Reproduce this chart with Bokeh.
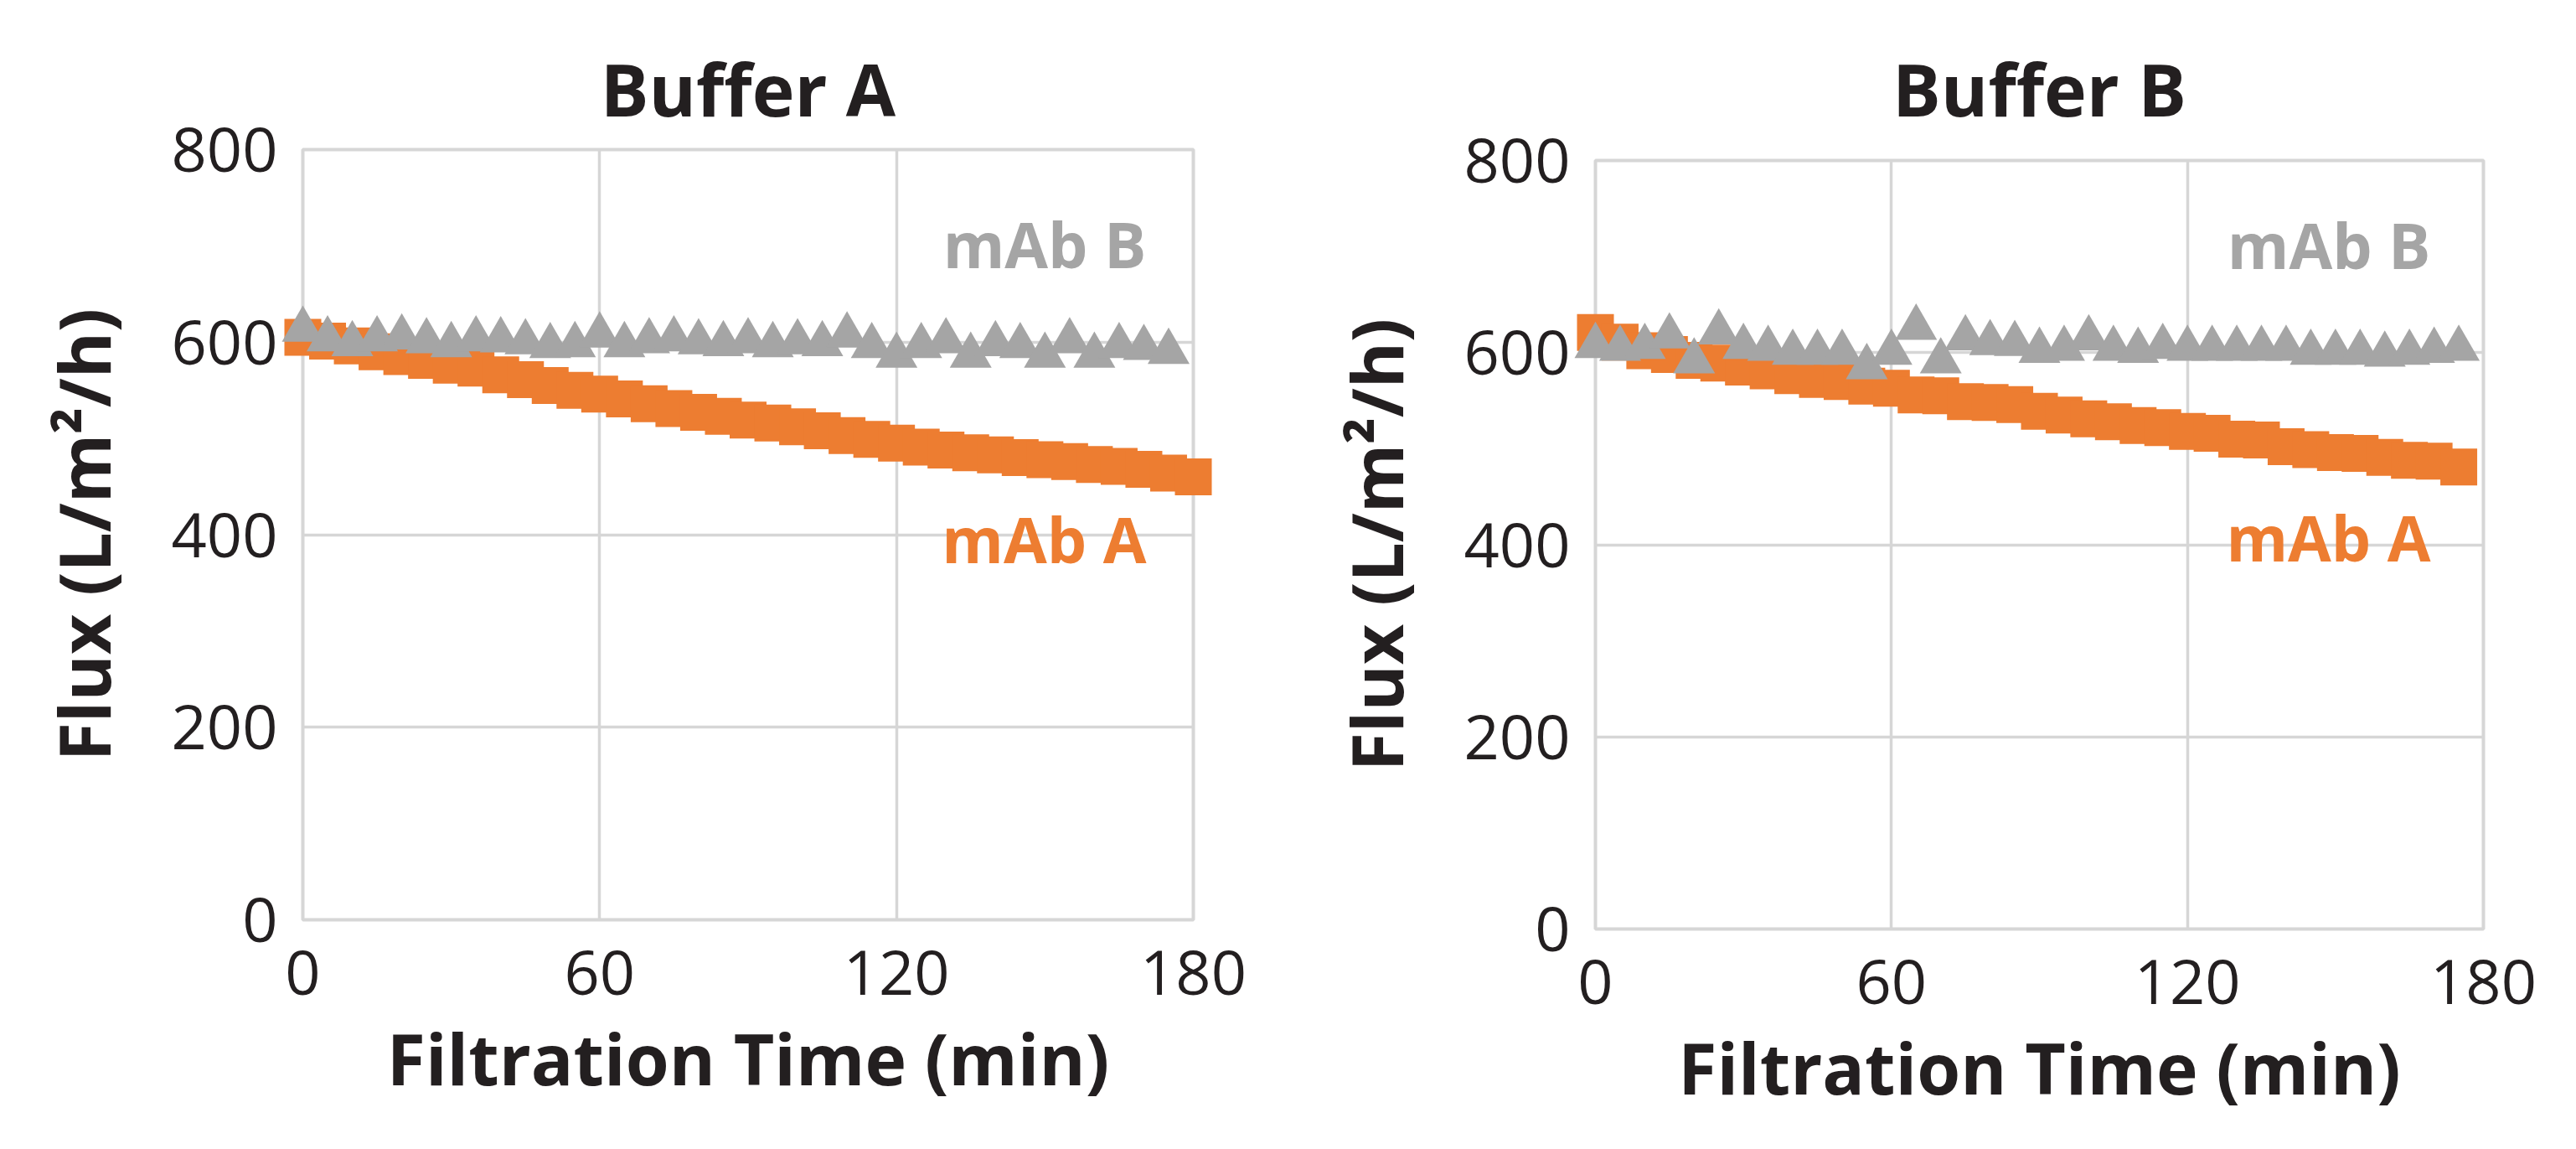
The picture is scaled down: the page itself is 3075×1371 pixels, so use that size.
from bokeh.plotting import figure
from bokeh.models import Range1d, FixedTicker, Label
from bokeh.core.properties import value
from bokeh.embed import file_html
from bokeh.resources import INLINE

# ---- data ----
time_a = [0, 5, 10, 15, 20, 25, 30, 35, 40, 45, 50, 55, 60, 65, 70, 75, 80, 85, 90,
          95, 100, 105, 110, 115, 120, 125, 130, 135, 140, 145, 150, 155, 160, 165,
          170, 175, 180]
time_b = time_a[:-1]

bufA_mabA = [605, 601, 596, 590, 585, 581, 576, 573, 566, 561, 555, 550, 546, 541, 536,
             531, 527, 523, 519, 516, 512, 508, 503, 499, 495, 491, 488, 485, 483, 480,
             478, 476, 473, 471, 468, 464, 460]
bufA_mabB = [613, 603, 598, 603, 605, 601, 597, 603, 602, 600, 596, 597, 607, 597, 601,
             603, 600, 598, 601, 597, 600, 598, 607, 596, 586, 596, 601, 586, 598, 596,
             586, 601, 586, 596, 594, 590]

bufB_mabA = [621, 611, 602, 598, 592, 589, 585, 581, 576, 572, 570, 565, 563, 556, 555,
             549, 548, 546, 539, 535, 531, 528, 524, 522, 518, 516, 510, 509, 502, 499,
             496, 495, 491, 488, 487, 481]
bufB_mabB = [607, 604, 606, 617, 591, 621, 606, 604, 600, 600, 600, 585, 600, 626, 591,
             615, 610, 609, 602, 604, 615, 604, 602, 606, 604, 604, 604, 604, 604, 600,
             600, 600, 598, 600, 602, 604]

titles = ["Buffer A", "Buffer B"]
x_ticks = [0, 60, 120, 180]
y_ticks = [0, 200, 400, 600, 800]
x_label = "Filtration Time (min)"
y_label = "Flux (L/m²/h)"
series_names = ["mAb A", "mAb B"]

ORANGE = "#ED7D31"
GREY = "#A5A5A5"
GRID = "#D6D6D6"
TEXT = "#231F20"
FONT = "Open Sans"


def make_panel(title, t_a, ya, t_b, yb, width, bl, br, bt, bb, lab_a, lab_b, title_y):
    p = figure(width=width, height=1371, output_backend="svg", toolbar_location=None,
               x_range=Range1d(0, 180), y_range=Range1d(0, 800),
               min_border_left=bl, min_border_right=br,
               min_border_top=bt, min_border_bottom=bb, title_location=None)
    p.background_fill_color = "white"
    p.border_fill_color = "white"
    p.outline_line_color = GRID
    p.outline_line_width = 4

    for ax in (p.xaxis[0], p.yaxis[0]):
        ax.axis_line_color = None
        ax.major_tick_line_color = None
        ax.minor_tick_line_color = None
        ax.major_tick_out = 0
        ax.major_tick_in = 0
        ax.minor_tick_out = 0
        ax.major_label_text_font = FONT
        ax.major_label_text_font_size = "74px"
        ax.major_label_text_color = TEXT
        ax.axis_label_text_font = FONT
        ax.axis_label_text_font_size = "84px"
        ax.axis_label_text_font_style = "bold"
        ax.axis_label_text_color = TEXT

    p.xaxis.ticker = FixedTicker(ticks=x_ticks)
    p.yaxis.ticker = FixedTicker(ticks=y_ticks)
    p.xaxis.axis_label = x_label
    p.yaxis.axis_label = y_label
    p.xaxis.major_label_standoff = 36
    p.yaxis.major_label_standoff = 30
    p.xaxis.axis_label_standoff = 15
    p.yaxis.axis_label_standoff = 45

    p.xgrid.ticker = FixedTicker(ticks=x_ticks)
    p.ygrid.ticker = FixedTicker(ticks=y_ticks)
    p.xgrid.grid_line_color = GRID
    p.ygrid.grid_line_color = GRID
    p.xgrid.grid_line_width = 3.5
    p.ygrid.grid_line_width = 3.5

    r1 = p.scatter(t_a, ya, marker="square", size=44, fill_color=ORANGE,
                   line_color=None)
    r2 = p.scatter(t_b, yb, marker="triangle", size=50, fill_color=GREY,
                   line_color=None)
    r1.level = "overlay"
    r2.level = "overlay"

    rt = p.text(x=[90], y=[title_y], text=[title], text_font=value(FONT),
                text_font_size="86px", text_font_style="bold", text_color=TEXT,
                text_align="center", text_baseline="alphabetic")
    rt.level = "overlay"

    p.add_layout(Label(x=lab_b[0], y=lab_b[1], text=series_names[1],
                       text_font=FONT, text_font_size="75px", text_font_style="bold",
                       text_color=GREY, text_align="right",
                       text_baseline="alphabetic"))
    p.add_layout(Label(x=lab_a[0], y=lab_a[1], text=series_names[0],
                       text_font=FONT, text_font_size="75px", text_font_style="bold",
                       text_color=ORANGE, text_align="right",
                       text_baseline="alphabetic"))
    return p


p1 = make_panel(titles[0], time_a, bufA_mabA, time_b, bufA_mabB,
                1537, 361, 113, 178, 274, (170.5, 396), (170.5, 702), 863.5)
p2 = make_panel(titles[1], time_b, bufB_mabA, time_b, bufB_mabB,
                1538, 367, 111, 191, 263, (169.3, 408), (169.3, 712), 875)

html = file_html([p1, p2], INLINE)
style = ("<style>html,body{margin:0;padding:0;}"
         "body{display:flex;flex-direction:row;align-items:flex-start;}</style>")
html = html.replace("</head>", style + "</head>", 1)
open("out.html", "w").write(html)
